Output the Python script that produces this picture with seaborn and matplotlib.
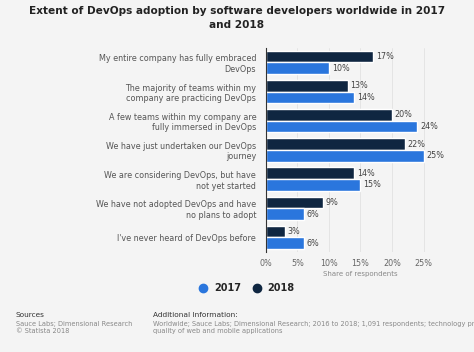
import pandas as pd
import matplotlib.pyplot as plt
from matplotlib.lines import Line2D
import seaborn as sns

categories = [
    'My entire company has fully embraced\nDevOps',
    'The majority of teams within my\ncompany are practicing DevOps',
    'A few teams within my company are\nfully immersed in DevOps',
    'We have just undertaken our DevOps\njourney',
    'We are considering DevOps, but have\nnot yet started',
    'We have not adopted DevOps and have\nno plans to adopt',
    "I've never heard of DevOps before",
]
share_2017 = [10, 14, 24, 25, 15, 6, 6]
share_2018 = [17, 13, 20, 22, 14, 9, 3]
x_ticks = [0, 5, 10, 15, 20, 25]

BG = '#f4f4f4'
COLORS = {'2017': '#2a76dd', '2018': '#0f2641'}

data = pd.DataFrame({
    'category': categories * 2,
    'share': share_2017 + share_2018,
    'year': ['2017'] * len(categories) + ['2018'] * len(categories),
})

sns.set_style('white')
plt.rcParams['font.family'] = ['DejaVu Sans']

fig = plt.figure(figsize=(4.74, 3.52), dpi=100, facecolor=BG)
ax = fig.add_axes([0.561, 0.284, 0.399, 0.58])
ax.set_facecolor(BG)

sns.barplot(data=data, y='category', x='share', hue='year',
            hue_order=['2018', '2017'], palette=COLORS, orient='h',
            width=0.8, saturation=1, ax=ax, legend=False)

for container in ax.containers:
    ax.bar_label(container, labels=['{}%'.format(int(v)) for v in container.datavalues],
                 padding=2, fontsize=5.8, color='#444444')

ax.set_xlim(0, 30)
ax.set_ylim(6.5, -0.5)
ax.set_xticks(x_ticks)
ax.set_xticklabels(['{}%'.format(t) for t in x_ticks])
ax.xaxis.grid(True, color='#e2e2e2', linewidth=0.6)
ax.set_axisbelow(True)
for s in ['top', 'right', 'bottom']:
    ax.spines[s].set_visible(False)
ax.spines['left'].set_color('#333333')
ax.spines['left'].set_linewidth(0.8)
ax.tick_params(axis='y', length=0, labelsize=5.8, labelcolor='#555555', pad=7)
ax.tick_params(axis='x', length=0, labelsize=5.8, labelcolor='#666666', pad=5)
ax.set_ylabel('')
ax.set_xlabel('Share of respondents', fontsize=5, color='#888888', labelpad=2)
for lbl in ax.get_yticklabels():
    lbl.set_horizontalalignment('right')
    lbl.set_multialignment('right')

fig.text(0.5, 0.982, 'Extent of DevOps adoption by software developers worldwide in 2017\nand 2018',
         ha='center', va='top', fontsize=7.6, fontweight='bold', color='#222222', linespacing=1.45)

handles = [Line2D([], [], marker='o', linestyle='', markersize=6, color=COLORS[y]) for y in ['2017', '2018']]
fig.legend(handles, ['2017', '2018'], loc='center', bbox_to_anchor=(0.515, 0.182), ncol=2,
           frameon=False, handletextpad=0.1, columnspacing=0.6,
           prop={'weight': 'bold', 'size': 7})

fig.text(0.033, 0.099, 'Sources', fontsize=5.3, color='#333333')
fig.text(0.033, 0.089, 'Sauce Labs; Dimensional Research\n\u00a9 Statista 2018', fontsize=4.8,
         color='#888888', va='top', linespacing=1.35)
fig.text(0.323, 0.099, 'Additional Information:', fontsize=5.3, color='#333333')
fig.text(0.323, 0.089, 'Worldwide; Sauce Labs; Dimensional Research; 2016 to 2018; 1,091 respondents; technology professionals responsible for the\nquality of web and mobile applications',
         fontsize=4.8, color='#888888', va='top', linespacing=1.35)

fig.savefig('out.png', dpi=100, facecolor=BG)
